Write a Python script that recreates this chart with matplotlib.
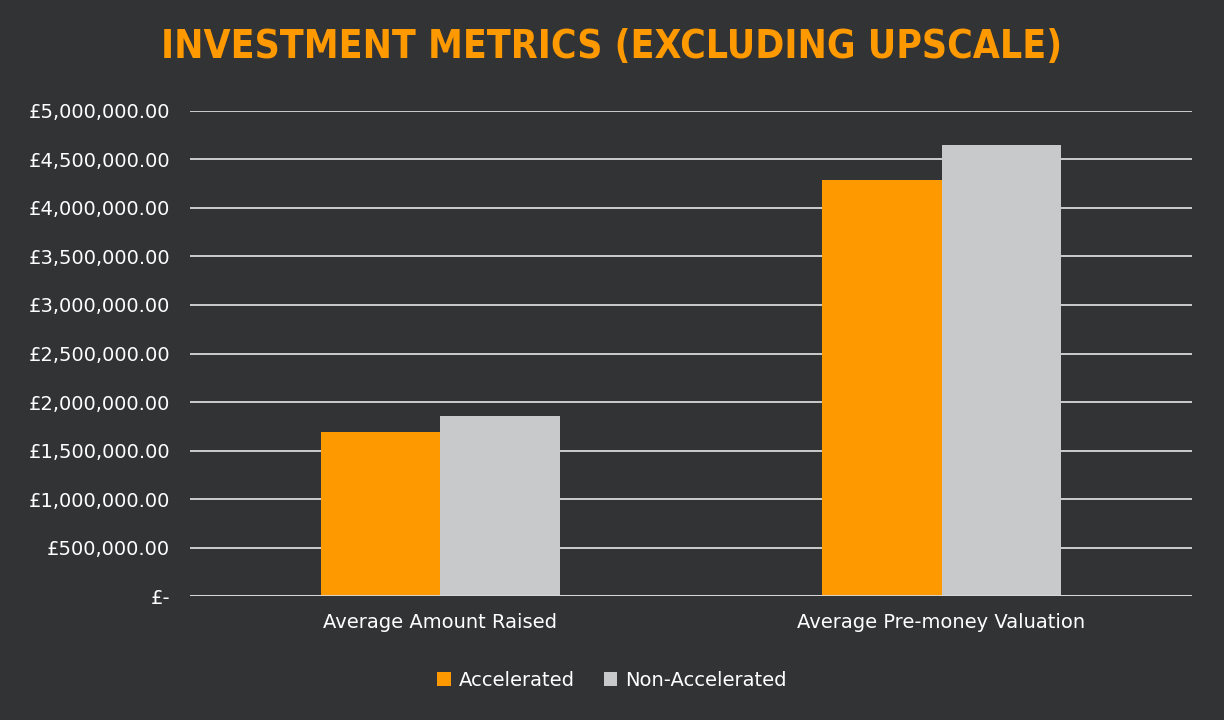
import matplotlib.pyplot as plt
import numpy as np
from matplotlib.ticker import FuncFormatter

categories = ["Average Amount Raised", "Average Pre-money Valuation"]
accelerated = [1690000, 4290000]
non_accelerated = [1856000, 4650000]
series_names = ["Accelerated", "Non-Accelerated"]

bg = "#323335"
orange = "#FF9900"
grey = "#C8C9CB"

fig = plt.figure(figsize=(12.24, 7.2), dpi=100, facecolor=bg)
ax = fig.add_axes([0.155, 0.172, 0.819, 0.674], facecolor=bg)

x = np.arange(len(categories))
w = 0.239
ax.bar(x - w / 2, accelerated, w, color=orange, label=series_names[0], zorder=3)
ax.bar(x + w / 2, non_accelerated, w, color=grey, label=series_names[1], zorder=3)

ax.set_xlim(-0.5, 1.5)
ax.set_ylim(0, 5000000)
ax.set_yticks(np.arange(0, 5000001, 500000))
ax.yaxis.set_major_formatter(FuncFormatter(lambda v, p: "£-" if v == 0 else f"£{v:,.2f}"))
ax.set_xticks(x)
ax.set_xticklabels(categories)
ax.grid(axis="y", color="#D9D9D9", linewidth=1.3, zorder=0)
ax.tick_params(colors="white", labelsize=14, length=0, pad=14)
ax.tick_params(axis="x", pad=12)
for s in ax.spines.values():
    s.set_visible(False)
ax.axhline(0, color="#D9D9D9", linewidth=1.3, zorder=4)

fig.text(0.5, 0.935, "INVESTMENT METRICS (EXCLUDING UPSCALE)", ha="center", va="center",
         color=orange, fontsize=28, fontweight="bold", fontfamily="DejaVu Sans",
         fontstretch="condensed")

leg = fig.legend(loc="center", bbox_to_anchor=(0.5, 0.055), ncol=2, frameon=False,
                 fontsize=14, handlelength=0.7, handleheight=0.7, handletextpad=0.4,
                 columnspacing=1.5)
for t in leg.get_texts():
    t.set_color("white")

fig.savefig("out.png", facecolor=bg)
